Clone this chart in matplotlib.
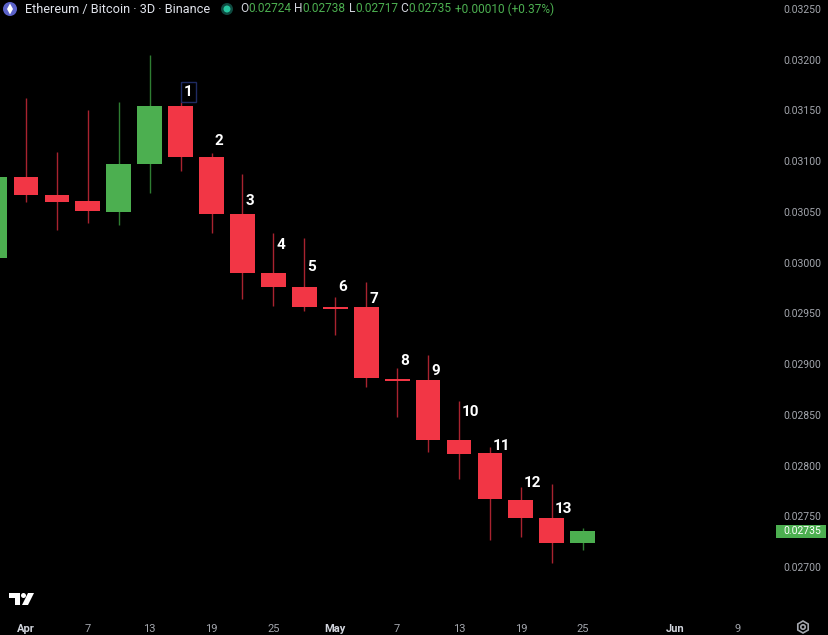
import matplotlib
matplotlib.use("Agg")
from matplotlib import pyplot as plt
from matplotlib.patches import Rectangle, Circle, Polygon, RegularPolygon
from matplotlib.transforms import IdentityTransform
import matplotlib.dates as mdates
import pandas as pd

plt.rcParams['font.family'] = ['Roboto', 'DejaVu Sans']

# 3D candles, Mar 29 .. May 25
dates = pd.date_range("2019-03-29", periods=20, freq="3D")
opens = [0.03005, 0.03084, 0.03067, 0.03061, 0.03050, 0.03097, 0.03154, 0.03104,
         0.03048, 0.02990, 0.02976, 0.02956, 0.02956, 0.02885, 0.02884, 0.02825,
         0.02812, 0.02766, 0.02748, 0.02724]
highs = [0.03095, 0.03162, 0.03109, 0.03150, 0.03158, 0.03205, 0.03158, 0.03108,
         0.03087, 0.03029, 0.03024, 0.02966, 0.02981, 0.02896, 0.02909, 0.02864,
         0.02818, 0.02779, 0.02782, 0.02738]
lows = [0.02998, 0.03060, 0.03032, 0.03039, 0.03037, 0.03069, 0.03090, 0.03029,
        0.02964, 0.02957, 0.02952, 0.02929, 0.02877, 0.02848, 0.02813, 0.02787,
        0.02727, 0.02730, 0.02704, 0.02717]
closes = [0.03084, 0.03067, 0.03060, 0.03051, 0.03097, 0.03154, 0.03104, 0.03048,
          0.02990, 0.02976, 0.02956, 0.02955, 0.02886, 0.02884, 0.02825, 0.02811,
          0.02767, 0.02748, 0.02724, 0.02735]

# count labels: candle index, text, baseline price
count_idx = [6, 7, 8, 9, 10, 11, 12, 13, 14, 15, 16, 17, 18]
count_text = [str(i) for i in range(1, 14)]
count_y = [0.03164, 0.03116, 0.03057, 0.03013, 0.02992, 0.02972, 0.02960,
           0.02899, 0.02889, 0.02849, 0.02815, 0.02779, 0.02753]

price_ticks = [0.0270, 0.0275, 0.0280, 0.0285, 0.0290, 0.0295, 0.0300,
               0.0305, 0.0310, 0.0315, 0.0320, 0.0325]
tick_dates = ["2019-04-01", "2019-04-07", "2019-04-13", "2019-04-19", "2019-04-25",
              "2019-05-01", "2019-05-07", "2019-05-13", "2019-05-19", "2019-05-25",
              "2019-06-03", "2019-06-09"]
tick_labels = ["Apr", "7", "13", "19", "25", "May", "7", "13", "19", "25", "Jun", "9"]
last_price = 0.02735

UP = '#4caf50'
DOWN = '#f23645'
UP_WICK = '#2e7d32'
DOWN_WICK = '#a8232f'
AXIS_TXT = '#a3a6ad'

W, H = 829, 635
fig = plt.figure(figsize=(W / 100, H / 100), dpi=100, facecolor='black')
ax = fig.add_axes([0, 25 / H, 775 / W, 610 / H], facecolor='black')

x = mdates.date2num(dates)
for i in range(len(x)):
    up = closes[i] >= opens[i]
    col = UP if up else DOWN
    wcol = UP_WICK if up else DOWN_WICK
    ax.vlines(x[i], lows[i], highs[i], color=wcol, linewidth=1.0, zorder=1)
    body = closes[i] - opens[i]
    if abs(body) < 0.000015:
        body = -0.000015
    ax.bar(x[i], body, bottom=opens[i], width=2.4, color=col, zorder=2)

for k in range(len(count_idx)):
    i = count_idx[k]
    t = ax.text(x[i] + 0.3, count_y[k], count_text[k], color='white', fontsize=11,
                fontweight='bold', ha='left', va='baseline', zorder=3)
    if k == 0:
        t.set_bbox(dict(boxstyle='square,pad=0.2', fc='none', ec='#1f2b62', lw=1.0))

ax.set_xlim(mdates.date2num(pd.Timestamp("2019-03-29")) + 0.48,
            mdates.date2num(pd.Timestamp("2019-06-12")) + 0.65)
ax.set_ylim(0.026576, 0.032589)

ax.yaxis.tick_right()
ax.set_yticks(price_ticks)
ax.set_yticklabels(['%.5f' % p for p in price_ticks])
ax.tick_params(axis='y', length=0, pad=6, labelsize=7.5, labelcolor=AXIS_TXT)
ax.set_xticks([mdates.date2num(pd.Timestamp(d)) for d in tick_dates])
ax.set_xticklabels(tick_labels)
ax.tick_params(axis='x', length=0, pad=10, labelsize=8, labelcolor=AXIS_TXT)
for lab in ax.get_xticklabels():
    if lab.get_text() in ("Apr", "May", "Jun"):
        lab.set_color('#d1d4dc')
        lab.set_fontweight('bold')
for s in ax.spines.values():
    s.set_visible(False)

# last price tag
ident = IdentityTransform()
fig.add_artist(Rectangle((776, H - 538), 50, 13, transform=ident, fc=UP, ec='none'))
fig.text(783 / W, 1 - 531.5 / H, '%.5f' % last_price, color='white', fontsize=7.5,
         ha='left', va='center')

# header
fig.add_artist(Circle((10, H - 9), 7, transform=ident, fc='#5b62c9', ec='none'))
fig.add_artist(Polygon([(10, H - 3.5), (13, H - 9), (10, H - 14.5), (7, H - 9)],
                       transform=ident, fc='white', ec='none'))
fig.add_artist(Circle((227, H - 9), 6, transform=ident, fc='#0f4a40', ec='none'))
fig.add_artist(Circle((227, H - 9), 3.5, transform=ident, fc='#26c6a0', ec='none'))
fig.text(25 / W, 1 - 9 / H, 'Ethereum / Bitcoin · 3D · Binance', color='#e0e3eb',
         fontsize=9.2, ha='left', va='center')

renderer = fig.canvas.get_renderer()
hdr = [('O', '#d1d4dc'), ('0.02724', UP), (' H', '#d1d4dc'), ('0.02738', UP),
       (' L', '#d1d4dc'), ('0.02717', UP), (' C', '#d1d4dc'), ('0.02735', UP),
       (' +0.00010 (+0.37%)', UP)]
xpos = 240
for txt, c in hdr:
    t = fig.text(xpos / W, 1 - 9 / H, txt, color=c, fontsize=8.6, ha='left', va='center')
    xpos += t.get_window_extent(renderer).width

# tradingview logo
fig.add_artist(Polygon([(9, H - 593), (20, H - 593), (20, H - 605), (15, H - 605),
                        (15, H - 598), (9, H - 598)], transform=ident, fc='white', ec='none'))
fig.add_artist(Circle((23.5, H - 595.5), 2.5, transform=ident, fc='white', ec='none'))
fig.add_artist(Polygon([(28, H - 593), (34, H - 593), (28, H - 605), (22, H - 605)],
                       transform=ident, fc='white', ec='none'))

# settings gear
fig.add_artist(RegularPolygon((803, H - 627), 6, radius=6, transform=ident,
                              fc='none', ec=AXIS_TXT, lw=1.2))
fig.add_artist(Circle((803, H - 627), 2.2, transform=ident, fc='none', ec=AXIS_TXT, lw=1.2))

fig.savefig('out.png', dpi=100, facecolor='black')
